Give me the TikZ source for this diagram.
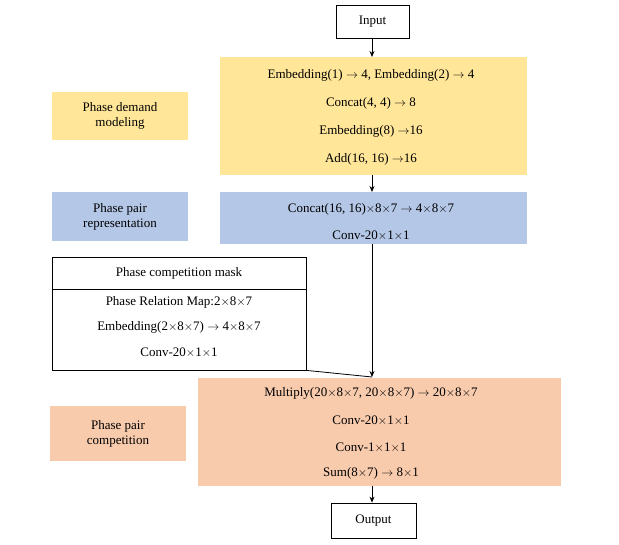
\documentclass[tikz,border=0pt]{standalone}
\usepackage{fontspec}
\setmainfont{Liberation Serif}
\usetikzlibrary{arrows.meta}
\definecolor{cy}{HTML}{FFE699}
\definecolor{cb}{HTML}{B4C7E7}
\definecolor{co}{HTML}{F8CBAD}
\begin{document}
\begin{tikzpicture}[x=1pt,y=-1pt,font=\fontsize{13}{15}\selectfont,
  box/.style={draw,thick,fill=white,inner sep=0pt},
  fillbox/.style={inner sep=0pt},
  t/.style={inner sep=0pt,anchor=center},
  arr/.style={-{Stealth[length=6pt,width=5pt]},thick}]
\useasboundingbox (0,0) rectangle (619,545);
% boxes
\node[box,minimum width=73pt,minimum height=33pt] (in) at (372.5,21.5) {Input};
\node[fillbox,fill=cy,minimum width=307pt,minimum height=118pt] (y) at (373.5,116) {};
\node[fillbox,fill=cy,minimum width=136pt,minimum height=48pt,align=center] (yl) at (120,116) {Phase demand\\modeling};
\node[t] at (371,75) {Embedding(1) $\rightarrow$ 4, Embedding(2) $\rightarrow$ 4};
\node[t] at (371,103) {Concat(4, 4) $\rightarrow$ 8};
\node[t] at (371,131) {Embedding(8) $\rightarrow$16};
\node[t] at (371,159) {Add(16, 16) $\rightarrow$16};
\node[fillbox,fill=cb,minimum width=307pt,minimum height=52pt] (b) at (373.5,218) {};
\node[fillbox,fill=cb,minimum width=136pt,minimum height=49pt,align=center] (bl) at (120,216.5) {Phase pair\\representation};
\node[t] at (371,209) {Concat(16, 16)$\times$8$\times$7 $\rightarrow$ 4$\times$8$\times$7};
\node[t] at (371,236) {Conv-20$\times$1$\times$1};
\node[box,minimum width=254pt,minimum height=113pt] (m) at (179,313.5) {};
\draw[thick] (52,289) -- (306,289);
\node[t] at (179,273) {Phase competition mask};
\node[t] at (179,302) {Phase Relation Map:2$\times$8$\times$7};
\node[t] at (179,327) {Embedding(2$\times$8$\times$7) $\rightarrow$ 4$\times$8$\times$7};
\node[t] at (179,353) {Conv-20$\times$1$\times$1};
\node[fillbox,fill=co,minimum width=363pt,minimum height=108pt] (o) at (379.5,432) {};
\node[fillbox,fill=co,minimum width=136pt,minimum height=55pt,align=center] (ol) at (118,433.5) {Phase pair\\competition};
\node[t] at (371,393) {Multiply(20$\times$8$\times$7, 20$\times$8$\times$7) $\rightarrow$ 20$\times$8$\times$7};
\node[t] at (371,421) {Conv-20$\times$1$\times$1};
\node[t] at (371,448) {Conv-1$\times$1$\times$1};
\node[t] at (371,473) {Sum(8$\times$7) $\rightarrow$ 8$\times$1};
\node[box,minimum width=85pt,minimum height=35pt] (out) at (373.5,520.5) {Output};
\coordinate (tgt) at (372,377);
\draw[arr] (in.south -| 372,0) -- (372,57);
\draw[arr] (372,175) -- (372,192);
\draw[arr] (372,244) -- (tgt);
\draw[thick] (m.south east) -- (tgt);
\draw[arr] (372,486) -- (out.north -| 372,0);
\end{tikzpicture}
\end{document}
